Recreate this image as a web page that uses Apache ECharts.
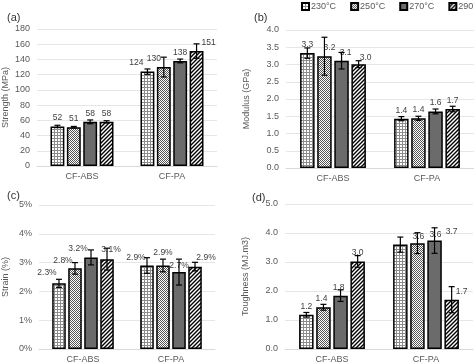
<!DOCTYPE html>
<html><head><meta charset="utf-8">
<script src="https://cdn.jsdelivr.net/npm/echarts@6/dist/echarts.min.js"></script>
<style>html,body{margin:0;padding:0;background:#fff}#c{width:474px;height:364px}</style>
</head><body><div id="c"></div>
<script>
// ---------- data ----------
var categories = ['CF-ABS', 'CF-PA'];
var temps = ['230°C', '250°C', '270°C', '290°C'];

var strengthABS = [52, 51, 58, 58];
var strengthPA  = [124, 130, 138, 151];
var strengthErrABS = [1.5, 1, 2.5, 1.5];
var strengthErrPA  = [3.5, 13, 2.5, 9.5];

var modulusABS = [3.33, 3.24, 3.11, 3.01];
var modulusPA  = [1.43, 1.44, 1.64, 1.71];
var modulusErrABS = [0.15, 0.55, 0.24, 0.1];
var modulusErrPA  = [0.06, 0.06, 0.07, 0.08];

var strainABS = [2.28, 2.8, 3.18, 3.12];
var strainPA  = [2.9, 2.9, 2.67, 2.86];
var strainErrABS = [0.14, 0.2, 0.26, 0.38];
var strainErrPA  = [0.27, 0.22, 0.45, 0.15];

var toughABS = [1.18, 1.44, 1.84, 3.02];
var toughPA  = [3.6, 3.65, 3.74, 1.7];
var toughErrABS = [0.08, 0.1, 0.2, 0.2];
var toughErrPA  = [0.26, 0.36, 0.44, 0.45];

// ---------- layout / style ----------
var FONT = 'Liberation Sans';
var CAT_GAP = 0.30, BAR_GAP = 0.18;

function pat(w, h, draw) {
  var c = document.createElement('canvas'); c.width = w; c.height = h;
  var x = c.getContext('2d'); x.fillStyle = '#fff'; x.fillRect(0, 0, w, h); draw(x);
  return { image: c, repeat: 'repeat' };
}
var fills = [
  pat(3, 3, function (x) { x.fillStyle = '#8c8c8c'; x.fillRect(0, 0, 3, 1); x.fillRect(0, 0, 1, 3); }),
  pat(2, 2, function (x) { x.fillStyle = '#555'; x.fillRect(0, 0, 1, 1); x.fillRect(1, 1, 1, 1); }),
  '#6b6b6b',
  pat(4, 4, function (x) {
    x.strokeStyle = '#000'; x.lineWidth = 1.4;
    x.beginPath(); x.moveTo(-1, 5); x.lineTo(5, -1); x.moveTo(-1, 1); x.lineTo(1, -1); x.moveTo(3, 5); x.lineTo(5, 3); x.stroke();
  })
];

var panels = [
  { key: 'a', letter: '(a)', lx: 2, ly: 7, name: 'Strength (MPa)', abs: strengthABS, pa: strengthPA, eA: strengthErrABS, eP: strengthErrPA,
    grid: { left: 33, right: 257, top: 29, bottom: 198 }, min: 0, max: 180, interval: 20, nameGap: 27,
    tick: function (v) { return v; }, lab: function (v) { return Math.round(v); },
    offA: [[0,0],[0,0],[0,0],[0,0]], offP: [[-11,0],[-10,0],[0,0],[12,0]] },
  { key: 'b', letter: '(b)', lx: 249, ly: 7, name: 'Modulus (GPa)', abs: modulusABS, pa: modulusPA, eA: modulusErrABS, eP: modulusErrPA,
    grid: { left: 286, right: 0, top: 30, bottom: 196 }, min: 0, max: 4, interval: 0.5, nameGap: 35,
    tick: function (v) { return v.toFixed(1); }, lab: function (v) { return v.toFixed(1); },
    offA: [[0,0],[5,0],[4,0],[7,2]], offP: [[0,0],[0,0],[0,0],[0,0]] },
  { key: 'c', letter: '(c)', lx: 2, ly: 185, name: 'Strain (%)', abs: strainABS, pa: strainPA, eA: strainErrABS, eP: strainErrPA,
    grid: { left: 35, right: 259, top: 205, bottom: 15 }, min: 0, max: 5, interval: 1, nameGap: 29,
    tick: function (v) { return v + '%'; }, lab: function (v) { return v.toFixed(1) + '%'; },
    offA: [[-12,-2],[-12,1],[-13,0],[4,-1]], offP: [[-11,1],[0,-4],[0,2],[11,0]] },
  { key: 'd', letter: '(d)', lx: 247, ly: 187, name: 'Toughness (MJ.m3)', abs: toughABS, pa: toughPA, eA: toughErrABS, eP: toughErrPA,
    grid: { left: 285, right: 1, top: 204, bottom: 14 }, min: 0, max: 5, interval: 1, nameGap: 35,
    tick: function (v) { return v.toFixed(1); }, lab: function (v) { return v.toFixed(1); },
    offA: [[0,0],[-2,0],[-2,1],[0,0]], offP: [[18,1],[18,0],[17,0],[10,0]] }
];

var grids = [], xAxes = [], yAxes = [], series = [], titles = [];
panels.forEach(function (p, pi) {
  grids.push(p.grid);
  titles.push({ text: p.letter, left: p.lx, top: p.ly, textStyle: { fontFamily: FONT, fontSize: 11, fontWeight: 'normal', color: '#333' } });
  xAxes.push({ type: 'category', gridIndex: pi, data: categories,
    axisLine: { lineStyle: { color: '#d9d9d9' } }, axisTick: { show: false },
    axisLabel: { color: '#595959', fontFamily: FONT, fontSize: 9, margin: 6 } });
  yAxes.push({ type: 'value', gridIndex: pi, min: p.min, max: p.max, interval: p.interval,
    name: p.name, nameLocation: 'middle', nameGap: p.nameGap,
    nameTextStyle: { color: '#595959', fontFamily: FONT, fontSize: 9 },
    axisLine: { show: false }, axisTick: { show: false },
    splitLine: { lineStyle: { color: '#e6e6e6', width: 1 } },
    axisLabel: { color: '#595959', fontFamily: FONT, fontSize: 9, margin: 7, formatter: p.tick } });
  var errData = [];
  temps.forEach(function (t, ti) {
    var vals = [p.abs[ti], p.pa[ti]];
    var offs = [p.offA[ti], p.offP[ti]];
    series.push({ type: 'bar', name: t, xAxisIndex: pi, yAxisIndex: pi,
      barCategoryGap: (CAT_GAP * 100) + '%', barGap: (BAR_GAP * 100) + '%',
      itemStyle: { color: fills[ti], borderColor: '#000', borderWidth: 1.5 },
      label: { show: true, position: 'top', distance: 4, color: '#404040', fontFamily: FONT, fontSize: 8.5,
        formatter: function (d) { return p.lab(d.value); } },
      data: vals.map(function (v, ci) { return { value: v, label: { offset: offs[ci] } }; }),
      z: 2 });
    errData.push([0, ti, p.abs[ti], p.eA[ti]]);
    errData.push([1, ti, p.pa[ti], p.eP[ti]]);
  });
  series.push({ type: 'custom', xAxisIndex: pi, yAxisIndex: pi, z: 5, silent: true,
    encode: { x: 0, y: 2 }, data: errData,
    renderItem: function (params, api) {
      var cat = api.value(0), idx = api.value(1), v = api.value(2), e = api.value(3);
      var band = api.size([1, 0])[0];
      var usable = band * (1 - CAT_GAP);
      var bw = usable / (4 + 3 * BAR_GAP);
      var total = 4 * bw + 3 * bw * BAR_GAP;
      var off = -total / 2 + idx * bw * (1 + BAR_GAP) + bw / 2;
      var top = api.coord([cat, v + e]), bot = api.coord([cat, v - e]);
      var x = top[0] + off, cw = 3;
      var st = { stroke: '#000', lineWidth: 1.2, fill: null };
      return { type: 'group', children: [
        { type: 'line', shape: { x1: x, y1: top[1], x2: x, y2: bot[1] }, style: st },
        { type: 'line', shape: { x1: x - cw, y1: top[1], x2: x + cw, y2: top[1] }, style: st },
        { type: 'line', shape: { x1: x - cw, y1: bot[1], x2: x + cw, y2: bot[1] }, style: st }
      ] };
    } });
});

var chart = echarts.init(document.getElementById('c'), null, { renderer: 'canvas' });
chart.setOption({
  animation: false,
  title: titles,
  legend: { data: temps, left: 301, top: 2, width: 300, padding: 0, itemWidth: 7, itemHeight: 7, itemGap: 14, icon: 'rect',
    textStyle: { color: '#595959', fontFamily: FONT, fontSize: 9, padding: [0, 0, 0, -3] } },
  grid: grids, xAxis: xAxes, yAxis: yAxes, series: series
});
</script></body></html>
